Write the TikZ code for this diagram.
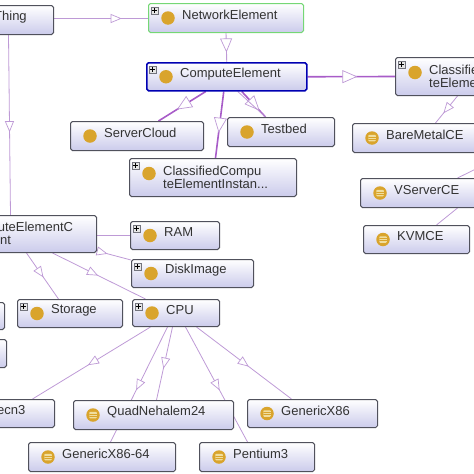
\documentclass[tikz,border=0pt]{standalone}
\usepackage{fontspec}
\setmainfont{Liberation Sans}
\usetikzlibrary{arrows.meta,backgrounds,decorations.markings}
\definecolor{linkc}{HTML}{BE9AD6}
\definecolor{thickc}{HTML}{A85CC8}
\definecolor{dotc}{HTML}{D9A42C}
\definecolor{iconc}{HTML}{F0DE9E}
\definecolor{edgec}{HTML}{50515C}
\tikzset{
  cls/.style={draw=edgec,line width=1pt,rounded corners=1.8pt,top color=white,bottom color=blue!45!gray!28,inner sep=0pt,anchor=north west},
  netcls/.style={draw=green!55!gray!70},
  selcls/.style={draw=blue!70!black,line width=1.5pt},
  link/.style={draw=linkc,line width=.8pt},
  isa/.style={link,postaction=decorate,decoration={markings,mark=at position #1 with {\arrow{Triangle[fill=white,length=11pt,width=9pt,line width=.7pt]}}}},
  isabig/.style={draw=linkc,line width=.9pt,postaction=decorate,decoration={markings,mark=at position #1 with {\arrow{Triangle[fill=white,length=14pt,width=12pt,line width=.7pt]}}}},
  isathick/.style={draw=thickc,line width=1.6pt,postaction=decorate,decoration={markings,mark=at position #1 with {\arrow{Triangle[fill=white,length=15pt,width=13pt,line width=.7pt,color=linkc]}}}},
  dot/.style={circle,fill=dotc,minimum size=13.5pt,inner sep=0pt},
  icon/.style={fill=iconc,rounded corners=.8pt,minimum width=7.5pt,minimum height=6.5pt,inner sep=0pt,path picture={
    \draw[dotc,line width=.5pt] ([yshift=1pt]path picture bounding box.west) -- ([yshift=1pt]path picture bounding box.east)
      ([yshift=-1pt]path picture bounding box.west) -- ([yshift=-1pt]path picture bounding box.east);}},
  lbl/.style={font=\fontsize{13}{13}\selectfont,align=left,anchor=west,text=black!80,inner sep=0pt},
  plus/.style={draw=edgec!80,fill=black!10,minimum size=7pt,inner sep=0pt,line width=.4pt,path picture={
    \draw[black,line width=.7pt] ([xshift=1.2pt]path picture bounding box.west) -- ([xshift=-1.2pt]path picture bounding box.east)
      ([yshift=1.2pt]path picture bounding box.south) -- ([yshift=-1.2pt]path picture bounding box.north);}}
}
% box with its round mark and its text, on one line and on two
\newcommand{\clsnode}[7][]{%
  \node[cls,#1,minimum width=#5pt,minimum height=#6pt] (#2) at (#3,-#4) {};
  \node[dot] (#2d) at ([xshift=20pt]#2.west) {};
  \node[lbl] (#2t) at ([xshift=34pt,yshift=3pt]#2.west) {#7};
}
\newcommand{\clstwo}[6]{%
  \node[cls,minimum width=#4pt,minimum height=#5pt] (#1) at (#2,-#3) {};
  \node[dot] (#1d) at ([xshift=20pt,yshift=4pt]#1.west) {};
  \node[lbl] (#1t) at ([xshift=34pt,yshift=.5pt]#1.west) {#6};
}
\newcommand{\plusmark}[1]{\node[plus] at ([xshift=6.5pt,yshift=-7.5pt]#1.north west) (#1p) {};}
\newcommand{\instmark}[1]{\node[icon] at (#1d) (#1i) {};}

\begin{document}
\begin{tikzpicture}[x=1pt,y=1pt]
  \clip (0,0) rectangle (474,-474);

  \clsnode{thing}{-40}{5}{93}{29}{Thing}
  \clsnode[netcls]{network}{148}{3}{155}{29}{NetworkElement}
  \clsnode[selcls]{compute}{146}{62}{160}{28}{ComputeElement}
  \clstwo{classright}{395}{57}{110}{38}{Classified\\teEleme}
  \clsnode{servercloud}{70}{121}{133}{29}{ServerCloud}
  \clsnode{testbed}{227}{117}{107}{29}{Testbed}
  \clstwo{classinst}{129}{158}{167}{38}{ClassifiedCompu\\teElementInstan...}
  \clsnode{baremetal}{352}{123}{140}{29}{BareMetalCE}
  \clsnode{vserver}{360}{178}{140}{29}{VServerCE}
  \clsnode{kvm}{363}{225}{106}{28}{KVMCE}
  \clstwo{elementc}{-71}{215}{167}{37}{ComputeElementC\\Element}
  \clsnode{ram}{130}{221}{89}{28}{RAM}
  \clsnode{disk}{131}{259}{122}{28}{DiskImage}
  \clsnode{storage}{17}{299}{105}{28}{Storage}
  \clsnode{cpu}{132}{299}{87}{27}{CPU}
  \clsnode{stuba}{-80}{302}{84}{27}{}
  \clsnode{stubb}{-80}{339}{86}{28}{}
  \clsnode{xeon}{-37}{399}{91}{28}{ecn3}
  \clsnode{generic}{247}{399}{130}{28}{GenericX86}
  \clsnode{quad}{73}{400}{160}{29}{QuadNehalem24}
  \clsnode{generic64}{28}{442}{147}{29}{GenericX86-64}
  \clsnode{pentium}{199}{442}{115}{29}{Pentium3}

  \plusmark{network}
  \plusmark{compute}
  \plusmark{classright}
  \plusmark{classinst}
  \plusmark{ram}
  \plusmark{disk}
  \plusmark{storage}
  \plusmark{cpu}
  \instmark{baremetal}
  \instmark{vserver}
  \instmark{kvm}
  \instmark{generic}
  \instmark{quad}
  \instmark{generic64}
  \instmark{pentium}

  \coordinate (vserverfree) at (482,-166);

  % links go under the boxes
  \begin{scope}[on background layer]
    \draw[isa=.72] ([yshift=1.5pt]thing.east) -- ([yshift=-.5pt]network.west);
    \draw[isa=.54] ([xshift=1.5pt]thing.south) -- ([xshift=-2.5pt]elementc.north);
    \draw[isabig=.67] (network.south) -- (compute.north);
    \draw[isathick=.61] ([xshift=-21pt]compute.south) -- ([xshift=21.5pt]servercloud.north);
    \draw[isathick=.62] ([xshift=-3pt]compute.south) -- ([xshift=2.5pt]classinst.north);
    \draw[isathick=.75] ([xshift=15pt]compute.south) -- ([xshift=-15.5pt]testbed.north);
    \draw[link] ([xshift=11pt]compute.south) -- ([xshift=-15.5pt]testbed.north);
    \draw[isathick=.57] (compute.east) -- (classright.west);
    \draw[isa=.64] ([xshift=7pt]classright.south) -- ([xshift=13pt]baremetal.north);
    \draw[link] (vserverfree) -- ([xshift=27pt]vserver.north);
    \draw[link] ([xshift=27pt]vserver.south) -- ([xshift=20pt]kvm.north);
    \draw[link] ([yshift=-1.5pt]elementc.east) -- (ram.west);
    \draw[isa=.31] ([yshift=2pt]elementc.south east) -- ([yshift=-1pt]disk.north west);
    \draw[isa=.49] ([xshift=39.5pt]elementc.south) -- ([xshift=-30.5pt]cpu.north);
    \draw[isa=.53] ([xshift=13.5pt]elementc.south) -- ([xshift=-11.5pt]storage.north);
    \draw[isa=.53] ([xshift=-25.5pt]cpu.south) -- ([xshift=23.5pt]xeon.north);
    \draw[isa=.55] ([xshift=-8.5pt]cpu.south) -- ([xshift=8.5pt]generic64.north);
    \draw[isa=.57] ([xshift=-3.5pt]cpu.south) -- ([xshift=3pt]quad.north);
    \draw[isa=.55] ([xshift=9.5pt]cpu.south) -- ([xshift=-9.5pt]pentium.north);
    \draw[isa=.55] ([xshift=20.5pt]cpu.south) -- ([xshift=-21pt]generic.north);
  \end{scope}
\end{tikzpicture}
\end{document}
